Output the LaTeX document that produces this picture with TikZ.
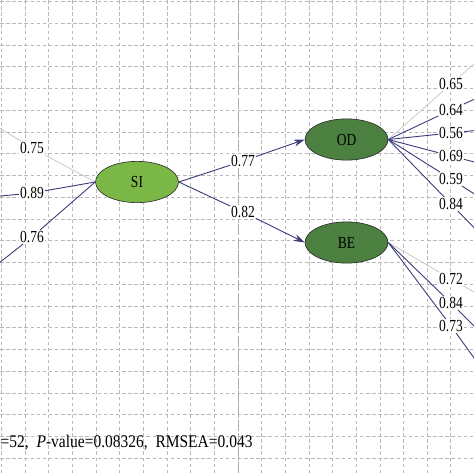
\documentclass[tikz,border=0pt]{standalone}
\usepackage{fontspec}
\setmainfont{Liberation Serif}
\usetikzlibrary{shapes.geometric,arrows.meta}
\definecolor{edgeblue}{RGB}{58,58,122}
\definecolor{edgegray}{RGB}{196,196,196}
\definecolor{lightgreen}{RGB}{124,184,72}
\definecolor{darkgreen}{RGB}{76,128,64}
\tikzset{
  gridln/.style={gray!55, line width=0.45pt, dash pattern=on 3.5pt off 2.6pt},
  midln/.style={gray!65, line width=0.5pt, dash pattern=on 11pt off 3pt},
  latent/.style={ellipse, draw=black!85, line width=0.6pt, minimum width=83pt,
    minimum height=33pt, inner sep=0pt, font=\fontsize{13.5}{15}\selectfont, yscale=1.25},
  coef/.style={fill=white, inner sep=0.8pt, font=\fontsize{13.5}{15}\selectfont, yscale=1.25},
  stat/.style={inner sep=0pt, font=\fontsize{15.5}{19}\selectfont, yscale=1.15},
  pathblue/.style={edgeblue, line width=0.9pt},
  pathgray/.style={edgegray, line width=0.7pt}
}
\begin{document}
\begin{tikzpicture}[x=1pt,y=-1pt]
\useasboundingbox (0,0) rectangle (474,474);
\clip (0,0) rectangle (474,474);
% grid
\foreach \k in {0,...,20}
  \draw[gridln] ({1.35+23.65*\k},0) -- ({1.35+23.65*\k},474);
\foreach \k in {-1,...,20}
  \draw[gridln] (0,{23+21.75*\k}) -- (474,{23+21.75*\k});
\draw[midln] (237.85,0) -- (237.85,474);

% latent variables
\node[latent, fill=lightgreen] (SI) at (137,182) {SI};
\node[latent, fill=darkgreen] (OD) at (346.5,139.5) {OD};
\node[latent, fill=darkgreen] (BE) at (346.5,242.5) {BE};

% indicators of SI (cut off on the left)
\node[coef] (si1) at (32,148) {0.75};
\node[coef] (si2) at (32,193) {0.89};
\node[coef] (si3) at (32,237) {0.76};
\coordinate (xsi1) at (-20,116);
\coordinate (xsi2) at (-20,198);
\coordinate (xsi3) at (-20,278);
\draw[pathgray] (xsi1) -- (si1) -- (SI.west);
\draw[pathblue] (xsi2) -- (si2) -- (SI.west);
\draw[pathblue] (xsi3) -- (si3) -- (SI.west);

% structural paths
\node[coef] (p1) at (243,161) {0.77};
\node[coef] (p2) at (243,212) {0.82};
\draw[pathblue, -{Stealth[length=11pt,width=7pt]}] (SI.east) -- (p1) -- (OD.west);
\draw[pathblue, -{Stealth[length=11pt,width=7pt]}] (SI.east) -- (p2) -- (BE.west);

% indicators of OD (cut off on the right)
\node[coef] (od1) at (451,84) {0.65};
\node[coef] (od2) at (451,110) {0.64};
\node[coef] (od3) at (451,133) {0.56};
\node[coef] (od4) at (451,156) {0.69};
\node[coef] (od5) at (451,179) {0.59};
\node[coef] (od6) at (451,204) {0.84};
\coordinate (xod1) at (490,50);
\coordinate (xod2) at (490,92);
\coordinate (xod3) at (490,129);
\coordinate (xod4) at (490,166);
\coordinate (xod5) at (490,204);
\coordinate (xod6) at (490,244);
\draw[pathgray] (OD.east) -- (od1) -- (xod1);
\foreach \i in {2,...,6}
  \draw[pathblue] (OD.east) -- (od\i) -- (xod\i);

% indicators of BE
\node[coef] (be1) at (451,279) {0.72};
\node[coef] (be2) at (451,303) {0.84};
\node[coef] (be3) at (451,326) {0.73};
\coordinate (xbe1) at (490,301);
\coordinate (xbe2) at (490,342);
\coordinate (xbe3) at (490,380);
\draw[pathgray] (BE.east) -- (be1) -- (xbe1);
\draw[pathblue] (BE.east) -- (be2) -- (xbe2);
\draw[pathblue] (BE.east) -- (be3) -- (xbe3);

% fit indices
\node[stat, anchor=west] (fit) at (0.5,443) {=52,\ \ \textit{P}-value=0.08326,\ \ RMSEA=0.043};
\end{tikzpicture}
\end{document}
